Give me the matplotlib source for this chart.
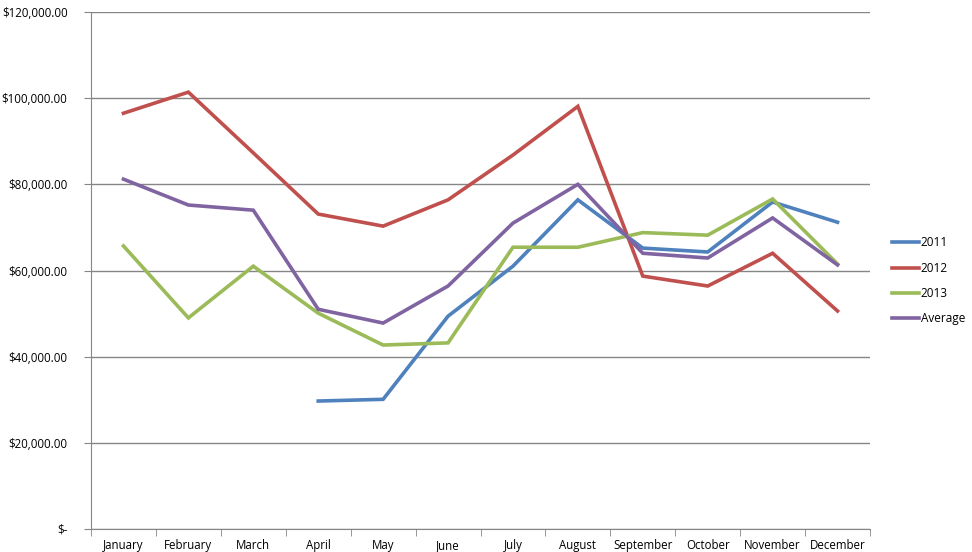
import matplotlib
matplotlib.use("Agg")
import matplotlib.pyplot as plt
import numpy as np

months = ["January", "February", "March", "April", "May", "June", "July",
          "August", "September", "October", "November", "December"]
sales_2011 = [np.nan, np.nan, np.nan, 29700, 30100, 49400, 61000, 76400,
              65200, 64300, 75900, 71200]
sales_2012 = [96500, 101400, 87300, 73100, 70300, 76400, 86800, 98100,
              58700, 56400, 64000, 50600]
sales_2013 = [65700, 49000, 61000, 50100, 42700, 43200, 65400, 65400,
              68800, 68200, 76600, 61500]
sales_avg = [81200, 75200, 74000, 51000, 47800, 56400, 71000, 80000,
             64000, 62900, 72200, 61300]
y_ticks = [0, 20000, 40000, 60000, 80000, 100000, 120000]

plt.rcParams['font.family'] = ['Open Sans', 'DejaVu Sans']

fig = plt.figure(figsize=(9.72, 5.52), dpi=100)
ax = fig.add_axes([91 / 972, 1 - 529 / 552, (870 - 91) / 972, (529 - 12) / 552])

x = np.arange(len(months))
series = [("2011", sales_2011, "#4F81BD"),
          ("2012", sales_2012, "#C0504D"),
          ("2013", sales_2013, "#9BBB59"),
          ("Average", sales_avg, "#8064A2")]
for name, vals, col in series:
    ax.plot(x, vals, color=col, lw=2.6, label=name, solid_joinstyle='miter')

ax.set_xlim(-0.5, len(months) - 0.5)
ax.set_ylim(0, 120000)
ax.set_yticks(y_ticks)
ax.set_yticklabels(["$-" if v == 0 else f"${v:,.2f}" for v in y_ticks])
ax.yaxis.grid(True, color="#868686", lw=1)
ax.set_axisbelow(True)

ax.set_xticks(x)
ax.set_xticklabels(months)
ax.set_xticks(np.arange(-0.5, len(months)), minor=True)
ax.tick_params(axis='x', which='major', length=0, pad=7)
ax.tick_params(axis='x', which='minor', length=5, color="#868686")
ax.tick_params(axis='y', length=5, color="#868686", pad=12)
ax.tick_params(labelsize=8.3, labelcolor="black")

for side in ["top", "right"]:
    ax.spines[side].set_visible(False)
for side in ["left", "bottom"]:
    ax.spines[side].set_color("#868686")

ax.legend(loc="center left", bbox_to_anchor=(1.015, 0.48), frameon=False,
          fontsize=8.5, handlelength=2.3, handletextpad=0.1, labelspacing=1.05)

fig.savefig("out.png", dpi=100)
